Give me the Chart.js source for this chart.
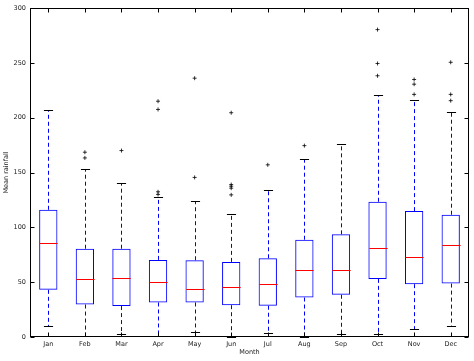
<!DOCTYPE html>
<html lang="en">
<head>
  <meta charset="UTF-8">
  <title>Mean rainfall by month</title>
  <script src="https://cdn.jsdelivr.net/npm/chart.js"></script>
  <style>
    body { margin: 0; background: #fff; }
    canvas { display: block; }
  </style>
</head>
<body>
  <canvas id="chart" width="474" height="361"></canvas>
  <script>
    // values
    const months = ['Jan', 'Feb', 'Mar', 'Apr', 'May', 'Jun', 'Jul', 'Aug', 'Sep', 'Oct', 'Nov', 'Dec'];
    const q1 = [43, 29.6, 28.2, 31.5, 31.5, 29, 28.5, 36, 38.5, 53, 48.2, 48.7];
    const q3 = [116, 80.5, 80.5, 70.3, 70, 68.5, 71.8, 88.7, 93.6, 123.3, 114.8, 111.5];
    const medians = [86, 53.3, 54.2, 50, 44.2, 46, 48.7, 61, 61.5, 81, 72.7, 84];
    const whiskerLow = [9.6, 0.5, 3, 0.5, 4.2, 0, 3.6, 0, 2.4, 3, 7, 10.3];
    const whiskerHigh = [207, 153.3, 140.3, 127.3, 124, 111.8, 133.6, 162.4, 175.7, 221, 216, 204.8];
    const outlierMonths = ['Feb', 'Feb', 'Mar', 'Apr', 'Apr', 'Apr', 'Apr', 'May', 'May',
      'Jun', 'Jun', 'Jun', 'Jun', 'Jun', 'Jul', 'Aug', 'Oct', 'Oct', 'Oct',
      'Nov', 'Nov', 'Nov', 'Dec', 'Dec', 'Dec'];
    const outlierValues = [168.5, 163.3, 170, 215, 207.5, 132.4, 130, 236, 145.5,
      204.5, 139, 137.5, 135.7, 129.6, 157, 174.5, 280.3, 249.4, 238.2,
      234.8, 230.5, 221.2, 250.5, 221.2, 215.5];
    const yTicks = [0, 50, 100, 150, 200, 250, 300];

    const font = { family: 'DejaVu Sans', size: 6.5 };

    // whiskers, caps, medians, frame and inward ticks
    const boxPlotExtras = {
      id: 'boxPlotExtras',
      afterDatasetsDraw(chart) {
        const c = chart.ctx;
        const xs = chart.scales.x, ys = chart.scales.y;
        const area = chart.chartArea;
        const half = xs.width / months.length * 0.25;
        c.save();
        months.forEach((m, i) => {
          const x = Math.round(xs.getPixelForValue(i)) + 0.5;
          const yq1 = ys.getPixelForValue(q1[i]);
          const yq3 = ys.getPixelForValue(q3[i]);
          const ylo = Math.round(ys.getPixelForValue(whiskerLow[i])) + 0.5;
          const yhi = Math.round(ys.getPixelForValue(whiskerHigh[i])) + 0.5;
          const ymed = Math.round(ys.getPixelForValue(medians[i])) + 0.5;
          c.lineWidth = 1;
          c.strokeStyle = '#0000ff';
          c.setLineDash([4, 3]);
          c.beginPath();
          c.moveTo(x, yq3); c.lineTo(x, yhi);
          c.moveTo(x, yq1); c.lineTo(x, ylo);
          c.stroke();
          c.setLineDash([]);
          c.strokeStyle = '#000';
          c.beginPath();
          c.moveTo(x - half / 2, yhi); c.lineTo(x + half / 2, yhi);
          c.moveTo(x - half / 2, ylo); c.lineTo(x + half / 2, ylo);
          c.stroke();
          c.strokeStyle = '#ff0000';
          c.beginPath();
          c.moveTo(x - half, ymed); c.lineTo(x + half, ymed);
          c.stroke();
        });
        // frame
        c.strokeStyle = '#000';
        c.lineWidth = 1;
        const l = Math.round(area.left) + 0.5, r = Math.round(area.right) - 0.5;
        const t = Math.round(area.top) + 0.5, b = Math.round(area.bottom) - 0.5;
        c.strokeRect(l, t, r - l, b - t);
        // inward tick marks on all four sides
        c.beginPath();
        yTicks.forEach(v => {
          const y = Math.round(ys.getPixelForValue(v)) + 0.5;
          c.moveTo(l, y); c.lineTo(l + 4, y);
          c.moveTo(r, y); c.lineTo(r - 4, y);
        });
        months.forEach((m, i) => {
          const x = Math.round(xs.getPixelForValue(i)) + 0.5;
          c.moveTo(x, b); c.lineTo(x, b - 4);
          c.moveTo(x, t); c.lineTo(x, t + 4);
        });
        c.stroke();
        c.restore();
      }
    };

    new Chart(document.getElementById('chart'), {
      type: 'bar',
      data: {
        labels: months,
        datasets: [
          {
            type: 'bar',
            data: months.map((m, i) => [q1[i], q3[i]]),
            backgroundColor: 'rgba(0,0,0,0)',
            borderColor: '#0000ff',
            borderWidth: 1,
            borderSkipped: false,
            barPercentage: 0.5,
            categoryPercentage: 1
          },
          {
            type: 'line',
            data: outlierMonths.map((m, i) => ({ x: m, y: outlierValues[i] })),
            showLine: false,
            pointStyle: 'cross',
            pointRadius: 2,
            borderColor: '#000',
            borderWidth: 0.8
          }
        ]
      },
      options: {
        responsive: false,
        animation: false,
        layout: { padding: { top: 8, right: 5, left: 0, bottom: 0 } },
        plugins: { legend: { display: false }, tooltip: { enabled: false } },
        scales: {
          x: {
            offset: true,
            grid: { display: false, drawTicks: false },
            border: { display: false },
            ticks: { font: font, color: '#222', padding: 3, maxRotation: 0 },
            title: { display: true, text: 'Month', font: font, color: '#222', padding: { top: 0, bottom: 5 } },
            afterFit(s) { s.height = 24; }
          },
          y: {
            min: 0,
            max: 300,
            afterBuildTicks(s) { s.ticks = yTicks.map(v => ({ value: v })); },
            grid: { display: false, drawTicks: false },
            border: { display: false },
            ticks: { font: font, color: '#222', padding: 4 },
            title: { display: true, text: 'Mean rainfall', font: font, color: '#222', padding: { top: 2, bottom: 0 } },
            afterFit(s) { s.width = 30; }
          }
        }
      },
      plugins: [boxPlotExtras]
    });
  </script>
</body>
</html>
